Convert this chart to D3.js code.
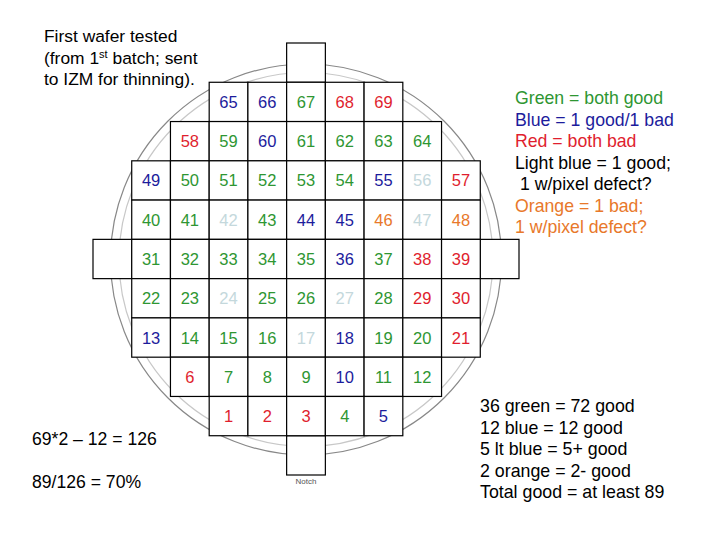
<!DOCTYPE html>
<html><head><meta charset="utf-8">
<script src="https://cdn.jsdelivr.net/npm/d3@7"></script>
<style>body{margin:0;background:#fff}text{font-family:"Liberation Sans",Arial,sans-serif}</style>
</head><body><svg id="c" width="720" height="540"></svg>
<script>
// rows of the wafer, top to bottom: [first column, die numbers]
const rowStarts = [3, 2, 1, 1, 1, 1, 1, 2, 3];
const rowDies = [
  [65,66,67,68,69],
  [58,59,60,61,62,63,64],
  [49,50,51,52,53,54,55,56,57],
  [40,41,42,43,44,45,46,47,48],
  [31,32,33,34,35,36,37,38,39],
  [22,23,24,25,26,27,28,29,30],
  [13,14,15,16,17,18,19,20,21],
  [6,7,8,9,10,11,12],
  [1,2,3,4,5]
];
const status = {
 g:[67,59,61,62,63,64,50,51,52,53,54,40,41,43,31,32,33,34,35,37,22,23,25,26,28,14,15,16,19,20,7,8,9,11,12,4],
 b:[65,66,60,49,55,44,45,36,13,18,10,5],
 r:[68,69,58,57,38,39,29,30,21,6,1,2,3],
 l:[56,42,47,24,27,17],
 o:[46,48]
};
const colors = {g:"#2e9632", b:"#1c1c9c", r:"#e01e2e", l:"#c4d8dc", o:"#e8782a"};
const legend = [["Green = both good","g"],["Blue = 1 good/1 bad","b"],["Red = both bad","r"],["Light blue = 1 good;","k"],[" 1 w/pixel defect?","k"],["Orange = 1 bad;","o"],["1 w/pixel defect?","o"]];
const title = ["First wafer tested","(from 1|st| batch; sent","to IZM for thinning)."];
const summary = ["36 green = 72 good","12 blue = 12 good","5 lt blue = 5+ good","2 orange = 2- good","Total good = at least 89"];
const calc = ["69*2 \u2013 12 = 126","89/126 = 70%"];

const svg = d3.select("#c");
const x = d3.scaleLinear().domain([0,11]).range([93,519]);
const y = d3.scaleLinear().domain([0,11]).range([43,475]);
const cw = x(1)-x(0), ch = y(1)-y(0);
const colorOf = n => { for (const k in status) if (status[k].includes(n)) return colors[k]; return "#000"; };

const cx = 306, cy = 259.5;
svg.append("circle").attr("cx",cx).attr("cy",cy).attr("r",195.5).attr("fill","none").attr("stroke","#888").attr("stroke-width",1.2);
svg.append("circle").attr("cx",cx).attr("cy",cy).attr("r",187).attr("fill","none").attr("stroke","#c8c8c8").attr("stroke-width",1.2);

const cells = [];
rowDies.forEach((r,i)=> r.forEach((n,j)=> cells.push({row:i+1,col:rowStarts[i]+j,n})));
const tabs = [{row:0,col:5},{row:10,col:5},{row:5,col:0},{row:5,col:10}];
const g = svg.append("g");
g.selectAll("rect.t").data(tabs).join("rect").attr("x",d=>x(d.col)).attr("y",d=>y(d.row)).attr("width",cw).attr("height",ch)
 .attr("fill","#fff").attr("stroke","#000").attr("stroke-width",1.2);
g.selectAll("rect.c").data(cells).join("rect").attr("x",d=>x(d.col)).attr("y",d=>y(d.row)).attr("width",cw).attr("height",ch)
 .attr("fill","#fff").attr("stroke","#000").attr("stroke-width",1.2);
g.selectAll("text.n").data(cells).join("text").attr("x",d=>x(d.col)+cw/2).attr("y",d=>y(d.row)+ch/2+6)
 .attr("text-anchor","middle").attr("font-size",16.5).attr("fill",d=>colorOf(d.n)).text(d=>d.n);

svg.append("text").attr("x",x(5)+cw/2).attr("y",y(11)+9).attr("text-anchor","middle").attr("font-size",8).attr("fill","#555").text("Notch");

title.forEach((t,i)=>{
  const tx = svg.append("text").attr("x",44).attr("y",42+i*21.7).attr("font-size",17.4).attr("fill","#000");
  const parts = t.split("|");
  parts.forEach((p,k)=>{ const s=tx.append("tspan").text(p);
    if(k===1) s.attr("font-size",11).attr("dy",-6);
    if(k===2) s.attr("dy",6); });
});
legend.forEach(([t,c],i)=> svg.append("text").attr("x",515).attr("y",104+i*21.5).attr("font-size",17.7)
  .attr("fill",c==="k"?"#000":colors[c]).style("white-space","pre").text(t));
summary.forEach((t,i)=> svg.append("text").attr("x",480).attr("y",412+i*21.5).attr("font-size",17.8).attr("fill","#000").text(t));
calc.forEach((t,i)=> svg.append("text").attr("x",32).attr("y",445+i*43).attr("font-size",17.6).attr("fill","#000").text(t));
</script></body></html>
